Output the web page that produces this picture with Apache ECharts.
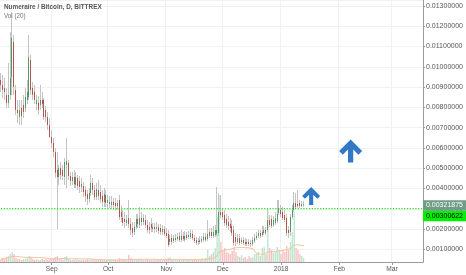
<!DOCTYPE html>
<html><head><meta charset="utf-8">
<script src="https://cdn.jsdelivr.net/npm/echarts@6/dist/echarts.min.js"></script>
<style>html,body{margin:0;padding:0;background:#fff}#c{width:466px;height:275px}</style>
</head><body><div id="c"></div>
<script>
// Daily candles, Numeraire / Bitcoin (BITTREX), first visible day 2017-08-05
const firstDayUTC = [2017, 7, 5];
const axisDays = 225; // visible slots on the time axis (to mid-March 2018)
const monthNames = ['Jan','Feb','Mar','Apr','May','Jun','Jul','Aug','Sep','Oct','Nov','Dec'];

// prices in mBTC
const openMBTC = [
9.351,9.104,8.956,8.611,8.217,8.611,9.499,11.226,8.858,7.872,
7.527,7.970,8.118,7.970,8.365,8.513,10.338,8.956,8.759,8.168,
8.217,8.118,8.365,8.365,7.872,7.527,7.132,6.541,6.244,5.800,
4.912,4.567,5.011,4.912,4.567,5.159,5.258,4.616,4.370,4.567,
4.172,4.518,4.370,4.074,4.123,3.926,3.729,3.482,3.778,4.271,
3.926,3.581,3.926,3.827,3.630,3.334,3.679,3.285,3.235,3.186,
3.334,3.285,3.137,3.433,2.841,2.545,2.496,2.298,2.545,2.249,
2.052,1.854,2.101,2.496,2.200,2.545,2.348,2.446,2.200,2.101,
2.249,2.002,2.101,2.002,2.101,2.052,1.854,2.002,1.805,1.756,
1.361,1.558,1.410,1.460,1.509,1.657,1.460,1.657,1.460,1.706,
1.608,1.608,1.756,1.558,1.460,1.410,1.361,1.410,1.460,1.608,
1.509,1.657,1.854,1.657,1.706,1.756,1.805,2.841,2.841,2.693,
2.496,2.348,2.249,2.150,1.953,1.608,1.361,1.558,1.361,1.460,
1.361,1.263,1.361,1.312,1.263,1.410,1.558,1.657,1.805,1.706,
1.805,1.953,1.953,2.446,2.496,2.200,2.298,2.397,2.792,2.939,
2.841,2.693,2.545,1.953,1.854,2.594,2.939,3.285,3.235,3.285,
3.137,3.186];
const closeMBTC = [
9.104,8.858,8.759,8.217,8.611,9.450,11.423,9.006,7.872,7.724,
7.872,7.576,7.773,8.513,8.759,10.486,8.858,8.611,8.365,8.365,
7.872,8.365,8.168,7.527,7.527,7.132,6.541,6.244,5.800,4.764,
4.567,5.011,4.666,4.616,5.307,5.356,4.616,4.370,4.567,4.222,
4.567,4.123,4.074,4.222,3.827,3.630,3.482,3.778,4.271,3.926,
3.581,3.975,3.630,3.482,3.334,3.729,3.285,3.433,3.334,3.334,
3.186,3.137,3.285,2.594,2.594,2.298,2.348,2.446,2.249,1.953,
1.805,2.101,2.496,2.249,2.545,2.348,2.545,2.200,1.953,1.953,
2.052,2.101,2.002,2.101,1.904,1.854,2.002,1.756,1.657,1.213,
1.509,1.361,1.558,1.558,1.608,1.460,1.657,1.509,1.657,1.558,
1.706,1.805,1.558,1.410,1.312,1.361,1.460,1.509,1.608,1.460,
1.756,1.854,1.657,1.854,1.953,1.953,2.841,2.693,2.594,2.298,
2.200,2.150,2.052,1.805,1.312,1.361,1.558,1.312,1.460,1.312,
1.263,1.361,1.263,1.263,1.460,1.558,1.657,1.805,1.657,1.854,
1.953,1.805,2.446,2.200,2.150,2.446,2.545,2.742,3.038,2.742,
2.545,2.446,1.805,1.805,2.594,2.939,3.285,3.087,3.137,3.137,
3.235,3.21875];
const highMBTC = [
9.697,9.598,9.450,8.956,10.190,11.719,12.705,11.571,9.104,8.365,
8.365,8.365,8.611,8.956,9.351,11.571,10.585,9.252,9.104,8.611,
8.562,9.104,8.759,8.463,8.069,7.773,7.477,6.886,6.491,5.998,
5.800,5.159,5.307,5.159,5.504,6.491,5.405,4.814,4.814,4.912,
4.814,4.666,4.616,4.518,4.320,4.123,3.926,4.024,4.666,4.518,
4.172,4.271,4.419,4.172,3.926,4.024,3.926,3.679,3.630,3.630,
3.531,3.531,3.433,3.679,3.186,2.939,2.841,2.693,3.433,2.545,
2.348,2.348,2.742,2.742,3.087,2.841,2.742,2.693,2.446,2.348,
2.545,2.298,2.298,2.348,2.249,2.249,2.200,2.150,2.052,1.953,
1.706,1.756,1.706,1.756,1.805,1.854,1.953,1.854,1.904,1.854,
1.904,1.953,1.953,1.706,1.608,1.558,1.657,1.657,1.805,1.805,
2.446,2.052,2.052,2.150,2.200,4.074,3.778,3.679,3.038,2.939,
2.742,2.644,2.545,2.446,2.150,1.805,1.756,1.756,1.608,1.608,
1.558,1.509,1.509,1.460,1.608,1.756,1.854,1.953,1.953,2.150,
2.150,2.101,3.038,2.693,2.693,2.644,2.841,3.433,3.433,3.186,
3.087,2.939,2.742,2.150,2.742,3.186,3.827,3.778,3.926,3.433,
3.383,3.383];
const lowMBTC = [
8.759,8.463,8.365,7.970,7.970,8.365,8.611,8.611,7.625,7.231,
7.132,7.132,7.477,7.773,8.168,8.365,8.611,8.365,8.168,7.872,
7.625,7.872,7.970,7.379,7.280,6.886,6.491,5.998,5.554,4.518,
2.002,4.172,4.419,4.419,4.172,4.024,4.419,4.123,4.172,4.024,
4.024,3.926,3.778,3.827,3.581,3.334,3.186,3.285,3.630,3.679,
3.433,3.433,3.433,3.285,3.087,3.087,3.087,3.038,3.038,2.989,
2.939,2.890,2.939,2.446,2.348,2.150,2.052,2.150,2.052,1.706,
1.608,1.706,2.002,2.052,2.052,2.150,2.200,2.052,1.805,1.756,
1.854,1.854,1.805,1.854,1.756,1.706,1.706,1.657,1.558,1.115,
1.213,1.213,1.312,1.361,1.410,1.361,1.361,1.410,1.361,1.460,
1.509,1.509,1.460,1.312,1.213,1.213,1.263,1.312,1.361,1.361,
1.410,1.558,1.558,1.558,1.608,1.657,1.657,2.545,2.446,2.150,
2.052,1.953,1.854,1.657,1.164,1.164,1.263,1.213,1.263,1.213,
1.164,1.164,1.164,1.115,1.164,1.312,1.460,1.558,1.558,1.608,
1.706,1.706,1.854,2.101,2.052,2.101,2.200,2.298,2.693,2.594,
2.446,2.348,1.657,1.558,1.657,2.496,2.841,2.989,3.038,3.038,
3.087,3.087];
// daily volume in BTC
const volumeBTC = [
1.5,2,1.5,2.5,3,4,5,4,2,1.5,
1.5,1,1.5,1.5,2,3,2.5,1.5,1,1.5,
1,1,1.5,1,1.5,1,1.5,1.5,2,2.5,
3,1.5,1.5,1,2.5,3,1.5,1,1,1,
1.5,1,1,1,1,1,1.5,1,1.5,1,
1,1,1,1,1,1,1,1,1,1,
1,1,1,2,1.5,1.5,1,1,3.5,2,
1.5,1,1.5,1,1.5,1,1,1,1.5,1,
1,1,1,1,1,1,1,1,1.5,2,
2.5,1.5,1,1,1,1,1,1,1.5,1,
1,1.5,1,1.5,1,1,1.5,2,1.5,2,
6,3,4,5,7,22.5,33.5,10,6,7,
5,4.5,4,5.5,7.5,5,3,2.5,3.5,2,
2.5,1.5,3,2,2.5,4,4.5,5,3,7,
7.5,4,26,7,6,4.5,5,7.5,6,4,
5.5,5,8,6,10,15,25,7,6,4,
3,2];

const priceAxisMin = 0.000375;
const priceAxisMax = 0.013296;
const volumeAxisMax = 131;
const maPeriod = 20;
const horizontalLevel = 0.00300622;
const arrowMarks = [
  {date: '2018-01-17', price: 0.00363, size: 18},
  {date: '2018-02-07', price: 0.00585, size: 23}
];

const dates = [];
for (let i = 0; i < axisDays; i++) {
  const t = new Date(Date.UTC(firstDayUTC[0], firstDayUTC[1], firstDayUTC[2] + i));
  dates.push(t.toISOString().slice(0, 10));
}
const isMonthStart = (idx) => dates[idx] && dates[idx].slice(8) === '01';
const monthLabel = (val) => {
  const m = +val.slice(5, 7);
  return m === 1 ? val.slice(0, 4) : monthNames[m - 1];
};

const wicks = [], bodies = [], vols = [], ma = [];
for (let i = 0; i < openMBTC.length; i++) {
  const o = openMBTC[i] / 1000, c = closeMBTC[i] / 1000, h = highMBTC[i] / 1000, l = lowMBTC[i] / 1000;
  wicks.push([o, c, l, h]);
  bodies.push([o, c, Math.min(o, c), Math.max(o, c)]);
  const up = c >= o;
  vols.push({value: volumeBTC[i], itemStyle: {color: up ? '#bfe6cf' : '#f7c2c4'}});
  let s = 0, n = 0;
  for (let k = Math.max(0, i - maPeriod + 1); k <= i; k++) { s += volumeBTC[k]; n++; }
  ma.push(+(s / n).toFixed(3));
}
const lastPrice = closeMBTC[closeMBTC.length - 1] / 1000;
const lastSlot = dates[dates.length - 1];

const FONT = 'Liberation Sans, Arial, sans-serif';
const LEVEL_GREEN = '#1ee01e';
const tagStyle = (bg, fg, dy) => ({
  symbol: 'rect', symbolSize: [43, 10.5], symbolOffset: [22.4, dy],
  itemStyle: {color: bg},
  label: {show: true, position: 'inside', color: fg, fontSize: 7, fontFamily: FONT}
});

const chart = echarts.init(document.getElementById('c'), null, {renderer: 'canvas'});
chart.setOption({
  animation: false,
  backgroundColor: '#ffffff',
  title: [
    {text: 'Numeraire / Bitcoin, D, BITTREX', left: 4, top: 4.5, padding: 0,
     textStyle: {fontSize: 6.4, fontWeight: 'bold', color: '#555', fontFamily: FONT}},
    {text: 'Vol (20)', left: 4, top: 13.5, padding: 0,
     textStyle: {fontSize: 6.3, fontWeight: 'normal', color: '#777', fontFamily: FONT}}
  ],
  grid: {left: 0, right: 43, top: 0, bottom: 13, containLabel: false, outerBoundsMode: 'none'},
  xAxis: {
    type: 'category', data: dates, boundaryGap: true,
    axisLine: {lineStyle: {color: '#9a9a9a', width: 1}},
    axisTick: {show: true, interval: isMonthStart, alignWithLabel: true, length: 3, lineStyle: {color: '#9a9a9a'}},
    axisLabel: {interval: isMonthStart, formatter: monthLabel, fontSize: 6.6, color: '#555', margin: 4, fontFamily: FONT},
    splitLine: {show: true, interval: isMonthStart, lineStyle: {color: '#f1f1f1', width: 1}}
  },
  yAxis: [
    {type: 'value', position: 'right', min: priceAxisMin, max: priceAxisMax, splitNumber: 13,
     axisLine: {show: true, lineStyle: {color: '#9a9a9a', width: 1}},
     axisTick: {show: true, length: 2, lineStyle: {color: '#9a9a9a'}},
     axisLabel: {formatter: v => v.toFixed(8), fontSize: 7, color: '#555', margin: 3, fontFamily: FONT,
                 showMinLabel: false, showMaxLabel: false},
     splitLine: {show: true, lineStyle: {color: '#f1f1f1', width: 1}}},
    {type: 'value', min: 0, max: volumeAxisMax, show: false, splitLine: {show: false}}
  ],
  series: [
    {name: 'Volume', type: 'bar', yAxisIndex: 1, data: vols, barWidth: 1.4, z: 1, silent: true},
    {name: 'Vol MA', type: 'line', yAxisIndex: 1, data: ma, symbol: 'none', z: 1, silent: true,
     color: '#f6c19c', lineStyle: {color: '#f6c19c', width: 1}},
    {name: 'Wicks', type: 'candlestick', data: wicks, barWidth: 1, z: 2, silent: true,
     itemStyle: {color: '#c4c4c4', color0: '#c4c4c4', borderColor: '#c4c4c4', borderColor0: '#c4c4c4', borderWidth: 1}},
    {name: 'Level', type: 'line', yAxisIndex: 0, z: 3, silent: true, symbol: 'none',
     color: LEVEL_GREEN, itemStyle: {color: LEVEL_GREEN},
     data: [[dates[0], horizontalLevel], [lastSlot, horizontalLevel]],
     lineStyle: {color: LEVEL_GREEN, type: [1.2, 1.6], width: 1.2, opacity: 1},
     markPoint: {silent: true, animation: false,
       data: [Object.assign({coord: [lastSlot, horizontalLevel], value: horizontalLevel.toFixed(8)},
                            tagStyle('#00f000', '#000', 7.4))]}},
    {name: 'NMR/BTC', type: 'candlestick', data: bodies, barWidth: 1.2, z: 4, silent: true,
     itemStyle: {color: '#3b8a57', color0: '#ad3a2e', borderColor: '#3b8a57', borderColor0: '#ad3a2e', borderWidth: 0.8},
     markPoint: {
       silent: true, animation: false,
       symbolKeepAspect: true,
       label: {show: false},
       data: arrowMarks.map(a => ({coord: [a.date, a.price], symbolSize: a.size,
         symbol: 'path://M12 1L23 12L19.5 15.5L14.5 10.5L14.5 23L9.5 23L9.5 10.5L4.5 15.5L1 12Z',
         itemStyle: {color: '#3179c6'}})).concat([
         Object.assign({coord: [lastSlot, lastPrice], value: lastPrice.toFixed(8)},
                       tagStyle('#6f9c86', '#fff', 1.2))
       ])
     }}
  ]
});
</script></body></html>
